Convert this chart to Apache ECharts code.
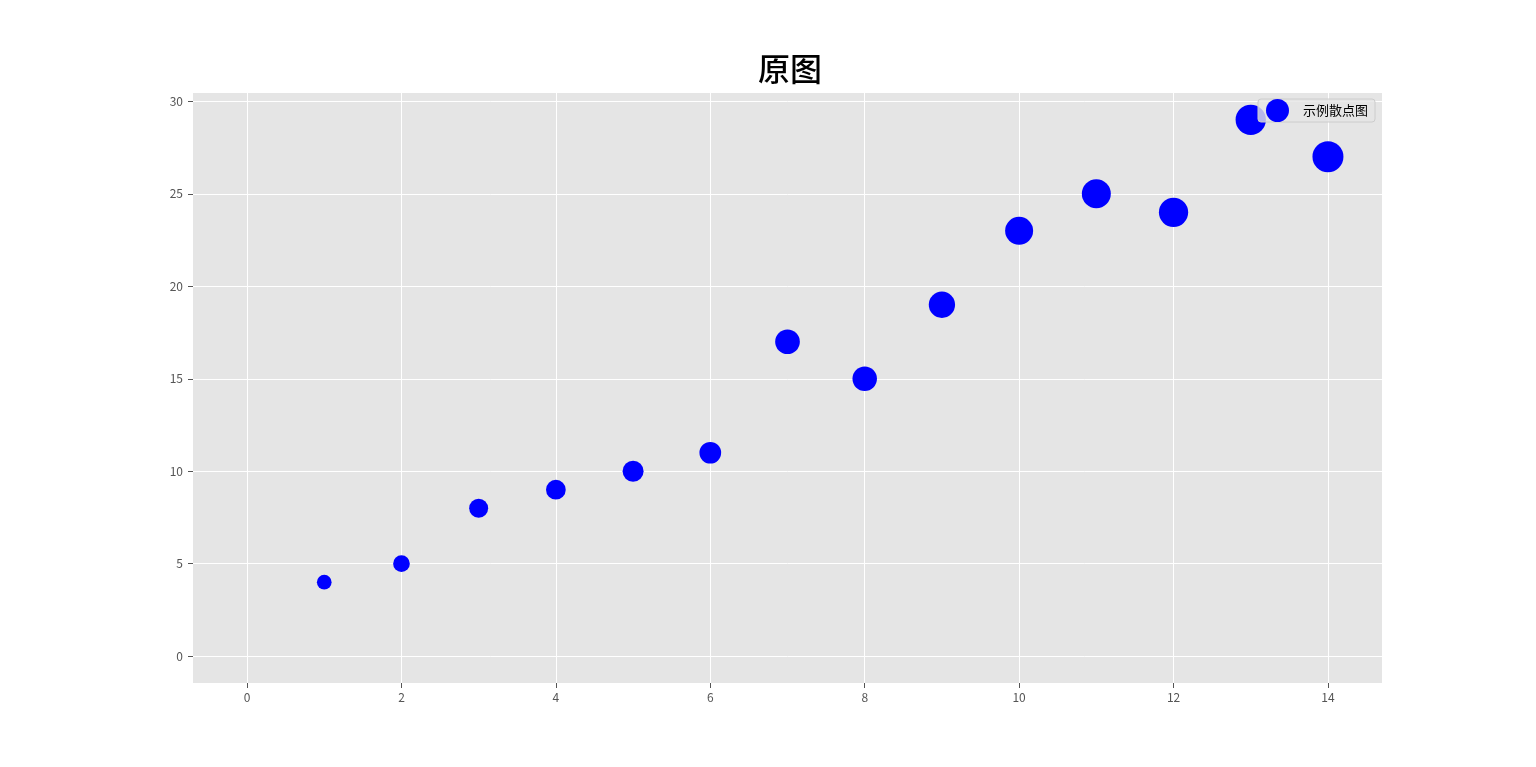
<!DOCTYPE html>
<html>
<head>
<meta charset="utf-8">
<script src="https://cdn.jsdelivr.net/npm/echarts@6/dist/echarts.min.js"></script>
<style>html,body{margin:0;padding:0;background:#fff;}#c{width:1536px;height:767px;}</style>
</head>
<body>
<div id="c"></div>
<script>
const xValues = [1, 2, 3, 4, 5, 6, 7, 8, 9, 10, 11, 12, 13, 14];
const yValues = [4, 5, 8, 9, 10, 11, 17, 15, 19, 23, 25, 24, 29, 27];
const markerDiameters = [14.7, 16.7, 19, 19.7, 21, 21.7, 24.7, 24.5, 26.3, 28, 29, 29.3, 30.3, 31];
const xTicks = [0, 2, 4, 6, 8, 10, 12, 14];
const yTicks = [0, 5, 10, 15, 20, 25, 30];
const seriesName = '示例散点图';
const titleText = '原图';

const font = '"Noto Sans CJK SC", "DejaVu Sans", sans-serif';
const data = xValues.map((x, i) => [x, yValues[i], markerDiameters[i]]);

const chart = echarts.init(document.getElementById('c'));
chart.setOption({
  animation: false,
  backgroundColor: '#ffffff',
  title: {
    text: titleText,
    left: 785, textAlign: 'center', top: 48,
    textStyle: { fontFamily: font, fontSize: 32, fontWeight: 500, color: '#000' }
  },
  legend: {
    right: 161, top: 99,
    orient: 'vertical',
    backgroundColor: 'rgba(229,229,229,0.8)',
    borderColor: '#cccccc', borderWidth: 1, borderRadius: 3,
    padding: [0, 7, 0, 8],
    itemWidth: 23, itemHeight: 23,
    icon: 'circle',
    textStyle: { fontFamily: font, fontSize: 13, color: '#000', padding: [0, 0, 0, 9] },
    data: [seriesName]
  },
  grid: {
    left: 193, right: 154, top: 93, bottom: 84,
    show: true, backgroundColor: '#E5E5E5', borderWidth: 0
  },
  xAxis: {
    type: 'value', min: -0.7, max: 14.7,
    axisLine: { show: false, onZero: false },
    axisTick: { show: true, length: 5, lineStyle: { color: '#555' }, customValues: xTicks },
    axisLabel: { customValues: xTicks, color: '#555', fontFamily: font, fontSize: 12, margin: 8 },
    splitLine: { show: true, lineStyle: { color: '#ffffff', width: 1 } }
  },
  yAxis: {
    type: 'value', min: -1.45, max: 30.45,
    axisLine: { show: false, onZero: false },
    axisTick: { show: true, length: 5, lineStyle: { color: '#555' }, customValues: yTicks },
    axisLabel: { customValues: yTicks, color: '#555', fontFamily: font, fontSize: 12, margin: 10 },
    splitLine: { show: true, lineStyle: { color: '#ffffff', width: 1 } }
  },
  series: [{
    name: seriesName,
    type: 'scatter',
    data: data,
    symbol: 'circle',
    symbolSize: v => v[2],
    itemStyle: { color: '#0000FF', opacity: 1 },
    emphasis: { disabled: true }
  }]
});
</script>
</body>
</html>
